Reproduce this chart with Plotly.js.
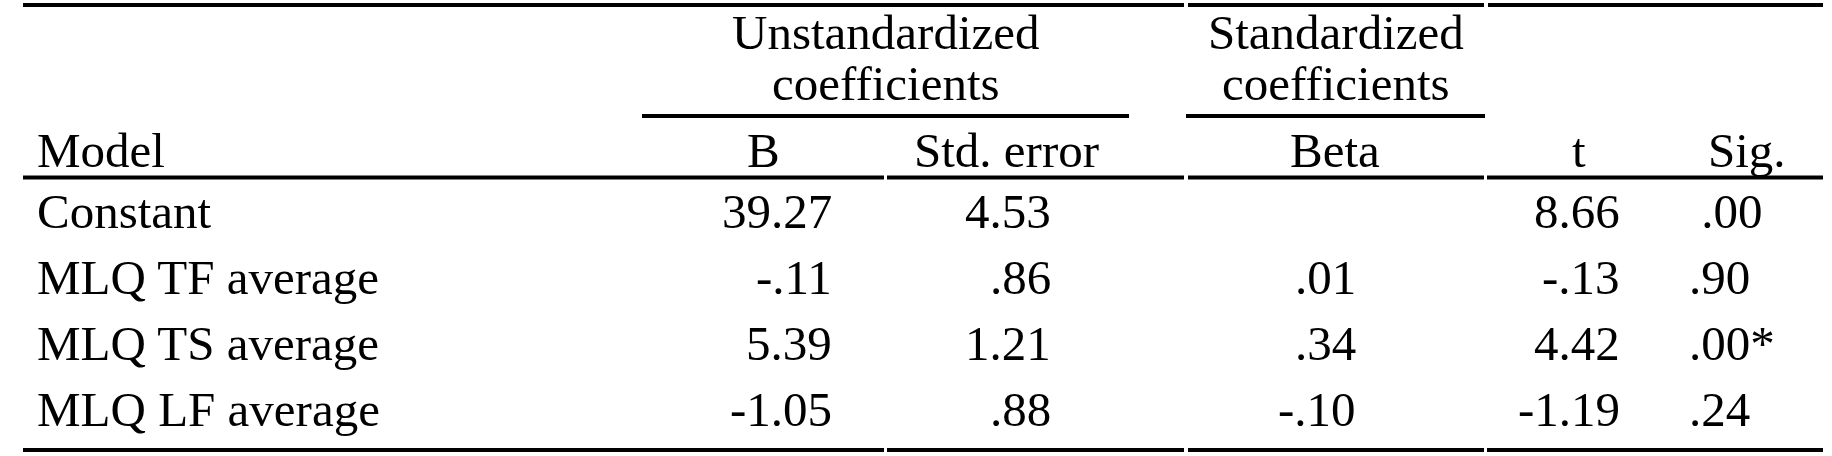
<!DOCTYPE html>
<html>
<head>
<meta charset="utf-8">
<script src="https://cdn.plot.ly/plotly-3.0.1.min.js"></script>
<style>
  html, body { margin: 0; padding: 0; background: #fff; }
  #myDiv { width: 1832px; height: 456px; }
</style>
</head>
<body>
<div id="myDiv"></div>
<script>
// ------ DATOS DE LA TABLA
const modelLabels = ["Constant", "MLQ TF average", "MLQ TS average", "MLQ LF average"];
const coefB = [39.27, -0.11, 5.39, -1.05];
const stdError = [4.53, 0.86, 1.21, 0.88];
const beta = [null, 0.01, 0.34, -0.10];
const tValues = [8.66, -0.13, 4.42, -1.19];
const sigValues = [0.00, 0.90, 0.00, 0.24];
const sigMarks = ["", "", "*", ""];

const groupHeaders = [["Unstandardized", "coefficients"], ["Standardized", "coefficients"]];
const columnHeaders = ["Model", "B", "Std. error", "Beta", "t", "Sig."];

// ------ POSICIONES (layout, no datos)
const fontTabla = { family: "Liberation Serif, Times New Roman, serif", size: 49, color: "#000" };
const rowY = [211, 277, 343, 409];
const headerY = 150;
const groupY = [32, 83];
const groupX = [886, 1336];
const headerX = [36, 763, 1006, 1335, 1579, 1747];
const valueX = { model: 36, b: 833, se: 1052, beta: 1357, t: 1621, sig: 1688 };

// .11 en vez de 0.11
function fmt(v) {
    if (v === null) return "";
    return v.toFixed(2).replace(/^(-?)0\./, "$1.");
}

function texto(x, y, text, anchor) {
    return {
        x: x, y: y, text: text, xref: "x", yref: "y",
        showarrow: false, xanchor: anchor, yanchor: "middle",
        font: fontTabla, borderpad: 0
    };
}

const annotations = [];

groupHeaders.forEach(function (g, i) {
    annotations.push(texto(groupX[i], groupY[0], g[0], "center"));
    annotations.push(texto(groupX[i], groupY[1], g[1], "center"));
});

columnHeaders.forEach(function (h, i) {
    annotations.push(texto(headerX[i], headerY, h, i === 0 ? "left" : "center"));
});

modelLabels.forEach(function (label, i) {
    annotations.push(texto(valueX.model, rowY[i], label, "left"));
    annotations.push(texto(valueX.b, rowY[i], fmt(coefB[i]), "right"));
    annotations.push(texto(valueX.se, rowY[i], fmt(stdError[i]), "right"));
    if (beta[i] !== null) annotations.push(texto(valueX.beta, rowY[i], fmt(beta[i]), "right"));
    annotations.push(texto(valueX.t, rowY[i], fmt(tValues[i]), "right"));
    // la primera fila lleva un espacio delante en el original
    const pre = i === 0 ? "\u00a0" : "";
    annotations.push(texto(valueX.sig, rowY[i], pre + fmt(sigValues[i]) + sigMarks[i], "left"));
});

// ------ LINEAS DE LA TABLA
function linea(x0, x1, y, w) {
    return { type: "line", xref: "x", yref: "y", x0: x0, x1: x1, y0: y, y1: y,
             line: { color: "#000", width: w } };
}
const tramosCompletos = [[23, 884], [887, 1184], [1188, 1484], [1487, 1823]];
const shapes = [
    linea(23, 1184, 5, 4), linea(1188, 1484, 5, 4), linea(1488, 1823, 5, 4),
    linea(642, 1129, 116, 4), linea(1186, 1485, 116, 4)
];
tramosCompletos.forEach(function (t) {
    shapes.push(linea(t[0], t[1], 177.5, 4));
    shapes.push(linea(t[0], t[1], 450, 4));
});

const layout = {
    width: 1832, height: 456,
    margin: { l: 0, r: 0, t: 0, b: 0 },
    paper_bgcolor: "#fff", plot_bgcolor: "#fff",
    showlegend: false,
    xaxis: { range: [0, 1832], visible: false, fixedrange: true },
    yaxis: { range: [456, 0], visible: false, fixedrange: true },
    annotations: annotations,
    shapes: shapes
};

Plotly.newPlot("myDiv", [{ x: [], y: [], type: "scatter" }], layout, { staticPlot: true });
</script>
</body>
</html>
